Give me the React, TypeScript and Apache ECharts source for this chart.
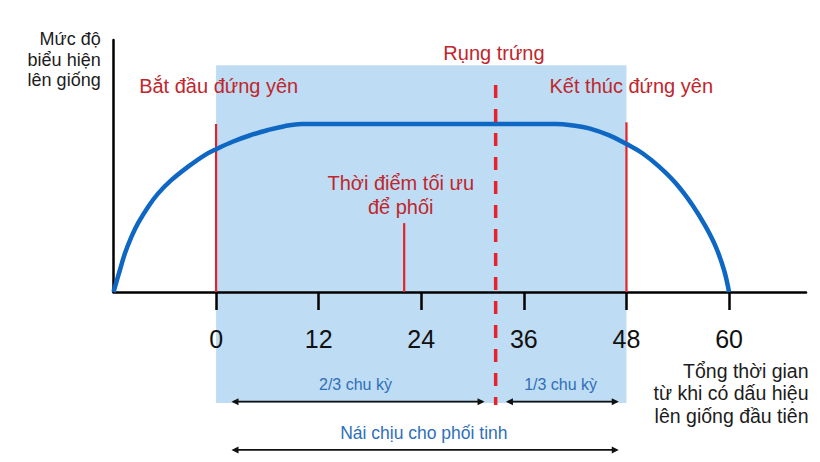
import React, { useEffect, useRef } from "react";
import * as echarts from "echarts";

// Curve: oestrus expression level vs time (hours)
const curveX = [-12, -11.25, -10.66, -9.88, -9.11, -7.94, -6.77, -5.21, -3.27, -1.32, 0, 2, 4, 6, 8, 10, 12, 24, 36, 39.75, 41.8, 43.64, 46, 48, 49.87, 51.82, 53.77, 55.71, 57.27, 58.44, 59.41, 60];
const curveY = [0, 13.1, 23, 33.1, 41.1, 50.8, 58.7, 66.7, 74.6, 81.5, 85, 89.6, 93.3, 96.3, 98.7, 100, 100, 100, 100, 100, 99.1, 97.4, 93.2, 88.1, 82.6, 74.6, 64.7, 51.8, 38.9, 27.0, 13.1, 0];

const tickValues = [0, 12, 24, 36, 48, 60];
const xMin = -12;
const xMax = 69;
const yMin = 0;
const yMax = 150;

// Standing heat window (shaded)
const shadeX = [0, 48];
const shadeY = [-66, 135];

// Solid red markers: start of standing heat, optimal mating time, end of standing heat
const markerX = [0, 22, 48];
const markerTop = [100, 41, 101];

// Ovulation (dashed)
const ovulationX = 32.7;
const ovulationY = [123.2, -67.3];

// Double arrows: 2/3 cycle, 1/3 cycle, receptive period
const arrowFrom = [1.8, 33.9, 1.8];
const arrowTo = [31.4, 47.1, 47.1];
const arrowY = [-65.3, -65.3, -94];

// Annotation texts and their anchors (data coordinates)
const labelTexts = [
  "Mức độ\nbiểu hiện\nlên giống",
  "Bắt đầu đứng yên",
  "Rụng trứng",
  "Kết thúc đứng yên",
  "Thời điểm tối ưu\nđể phối",
  "2/3 chu kỳ",
  "1/3 chu kỳ",
  "Nái chịu cho phối tinh",
  "Tổng thời gian\ntừ khi có dấu hiệu\nlên giống đầu tiên",
];
const labelX = [-13.5, -9.0, 32.5, 39.0, 21.6, 16.3, 40.3, 24.3, 69.3];
const labelY = [138.1, 122.6, 142.1, 122.6, 57.7, -54.8, -54.8, -83.7, -60.3];

const FONT = "'Liberation Sans', Arial, Helvetica, sans-serif";
const RED_TEXT = "#c0262c";
const BLUE_TEXT = "#2f6fb8";
const DARK_TEXT = "#1c1c1c";

const labelStyles = [
  { color: DARK_TEXT, size: 18, align: "right", lh: 20.5 },
  { color: RED_TEXT, size: 20, align: "left", lh: 23 },
  { color: RED_TEXT, size: 20, align: "center", lh: 23 },
  { color: RED_TEXT, size: 20, align: "left", lh: 23 },
  { color: RED_TEXT, size: 20, align: "center", lh: 23.4 },
  { color: BLUE_TEXT, size: 16, align: "center", lh: 18 },
  { color: BLUE_TEXT, size: 16, align: "center", lh: 18 },
  { color: BLUE_TEXT, size: 17.5, align: "center", lh: 20 },
  { color: DARK_TEXT, size: 19.5, align: "right", lh: 22.5 },
];

export default function App() {
  const ref = useRef<HTMLDivElement>(null);

  useEffect(() => {
    document.body.style.margin = "0";
    if (!ref.current) return;
    const chart = echarts.init(ref.current, undefined, { renderer: "svg" });

    const option: any = {
      animation: false,
      backgroundColor: "#ffffff",
      grid: { left: 113.5, right: 14, top: 40, bottom: 170, containLabel: false },
      xAxis: {
        type: "value",
        min: xMin,
        max: xMax,
        interval: 12,
        splitLine: { show: false },
        axisLine: { show: true, onZero: false, lineStyle: { color: "#000", width: 2.5 } },
        axisTick: {
          show: true,
          customValues: tickValues,
          length: 18,
          lineStyle: { color: "#000", width: 2.5 },
        },
        axisLabel: {
          show: true,
          customValues: tickValues,
          margin: 34,
          fontSize: 25,
          fontFamily: FONT,
          color: "#111",
        },
      },
      yAxis: {
        type: "value",
        min: yMin,
        max: yMax,
        splitLine: { show: false },
        axisTick: { show: false },
        axisLabel: { show: false },
        axisLine: { show: true, onZero: false, lineStyle: { color: "#000", width: 2.5 } },
      },
      series: [
        {
          type: "custom",
          name: "shade",
          z: -1,
          silent: true,
          clip: false,
          data: [[shadeX[0], shadeX[1], shadeY[0], shadeY[1]]],
          renderItem: (_p: any, api: any) => {
            const a = api.coord([api.value(0), api.value(3)]);
            const b = api.coord([api.value(1), api.value(2)]);
            return {
              type: "rect",
              shape: { x: a[0], y: a[1], width: b[0] - a[0], height: b[1] - a[1] },
              style: { fill: "#bedcf3" },
            };
          },
        },
        {
          type: "custom",
          name: "markers",
          z: 3,
          silent: true,
          clip: false,
          data: markerX.map((x, i) => [x, markerTop[i]]),
          renderItem: (_p: any, api: any) => {
            const a = api.coord([api.value(0), 0]);
            const b = api.coord([api.value(0), api.value(1)]);
            return {
              type: "line",
              shape: { x1: a[0], y1: a[1], x2: b[0], y2: b[1] },
              style: { stroke: "#e3222a", lineWidth: 2.2 },
            };
          },
        },
        {
          type: "line",
          name: "curve",
          z: 4,
          data: curveX.map((x, i) => [x, curveY[i]]),
          smooth: 0.4,
          showSymbol: false,
          symbol: "none",
          lineStyle: { color: "#0f67c4", width: 4.5 },
        },
        {
          type: "custom",
          name: "ovulation",
          z: 5,
          silent: true,
          clip: false,
          data: [[ovulationX, ovulationY[0], ovulationY[1]]],
          renderItem: (_p: any, api: any) => {
            const a = api.coord([api.value(0), api.value(1)]);
            const b = api.coord([api.value(0), api.value(2)]);
            return {
              type: "line",
              shape: { x1: a[0], y1: a[1], x2: b[0], y2: b[1] },
              style: { stroke: "#e6222c", lineWidth: 3.5, lineDash: [13, 11] },
            };
          },
        },
        {
          type: "custom",
          name: "arrows",
          z: 5,
          silent: true,
          clip: false,
          data: arrowFrom.map((f, i) => [f, arrowTo[i], arrowY[i]]),
          renderItem: (_p: any, api: any) => {
            const a = api.coord([api.value(0), api.value(2)]);
            const b = api.coord([api.value(1), api.value(2)]);
            const L = 7;
            const H = 3.5;
            const col = "#111";
            return {
              type: "group",
              children: [
                {
                  type: "line",
                  shape: { x1: a[0] + 2, y1: a[1], x2: b[0] - 2, y2: b[1] },
                  style: { stroke: col, lineWidth: 1.8 },
                },
                {
                  type: "polygon",
                  shape: { points: [[a[0], a[1]], [a[0] + L, a[1] - H], [a[0] + L, a[1] + H]] },
                  style: { fill: col },
                },
                {
                  type: "polygon",
                  shape: { points: [[b[0], b[1]], [b[0] - L, b[1] - H], [b[0] - L, b[1] + H]] },
                  style: { fill: col },
                },
              ],
            };
          },
        },
        {
          type: "custom",
          name: "labels",
          z: 6,
          silent: true,
          clip: false,
          data: labelTexts.map((_t, i) => [labelX[i], labelY[i], i]),
          renderItem: (_p: any, api: any) => {
            const i = api.value(2);
            const pt = api.coord([api.value(0), api.value(1)]);
            const s = labelStyles[i];
            return {
              type: "text",
              x: pt[0],
              y: pt[1],
              style: {
                text: labelTexts[i],
                fill: s.color,
                fontSize: s.size,
                fontFamily: FONT,
                lineHeight: s.lh,
                align: s.align,
                verticalAlign: "middle",
                textAlign: s.align,
                textVerticalAlign: "middle",
              },
            };
          },
        },
      ],
    };

    chart.setOption(option);
    return () => chart.dispose();
  }, []);

  return (
    <div
      ref={ref}
      style={{ position: "absolute", left: 0, top: 0, width: 820, height: 462 }}
    />
  );
}
